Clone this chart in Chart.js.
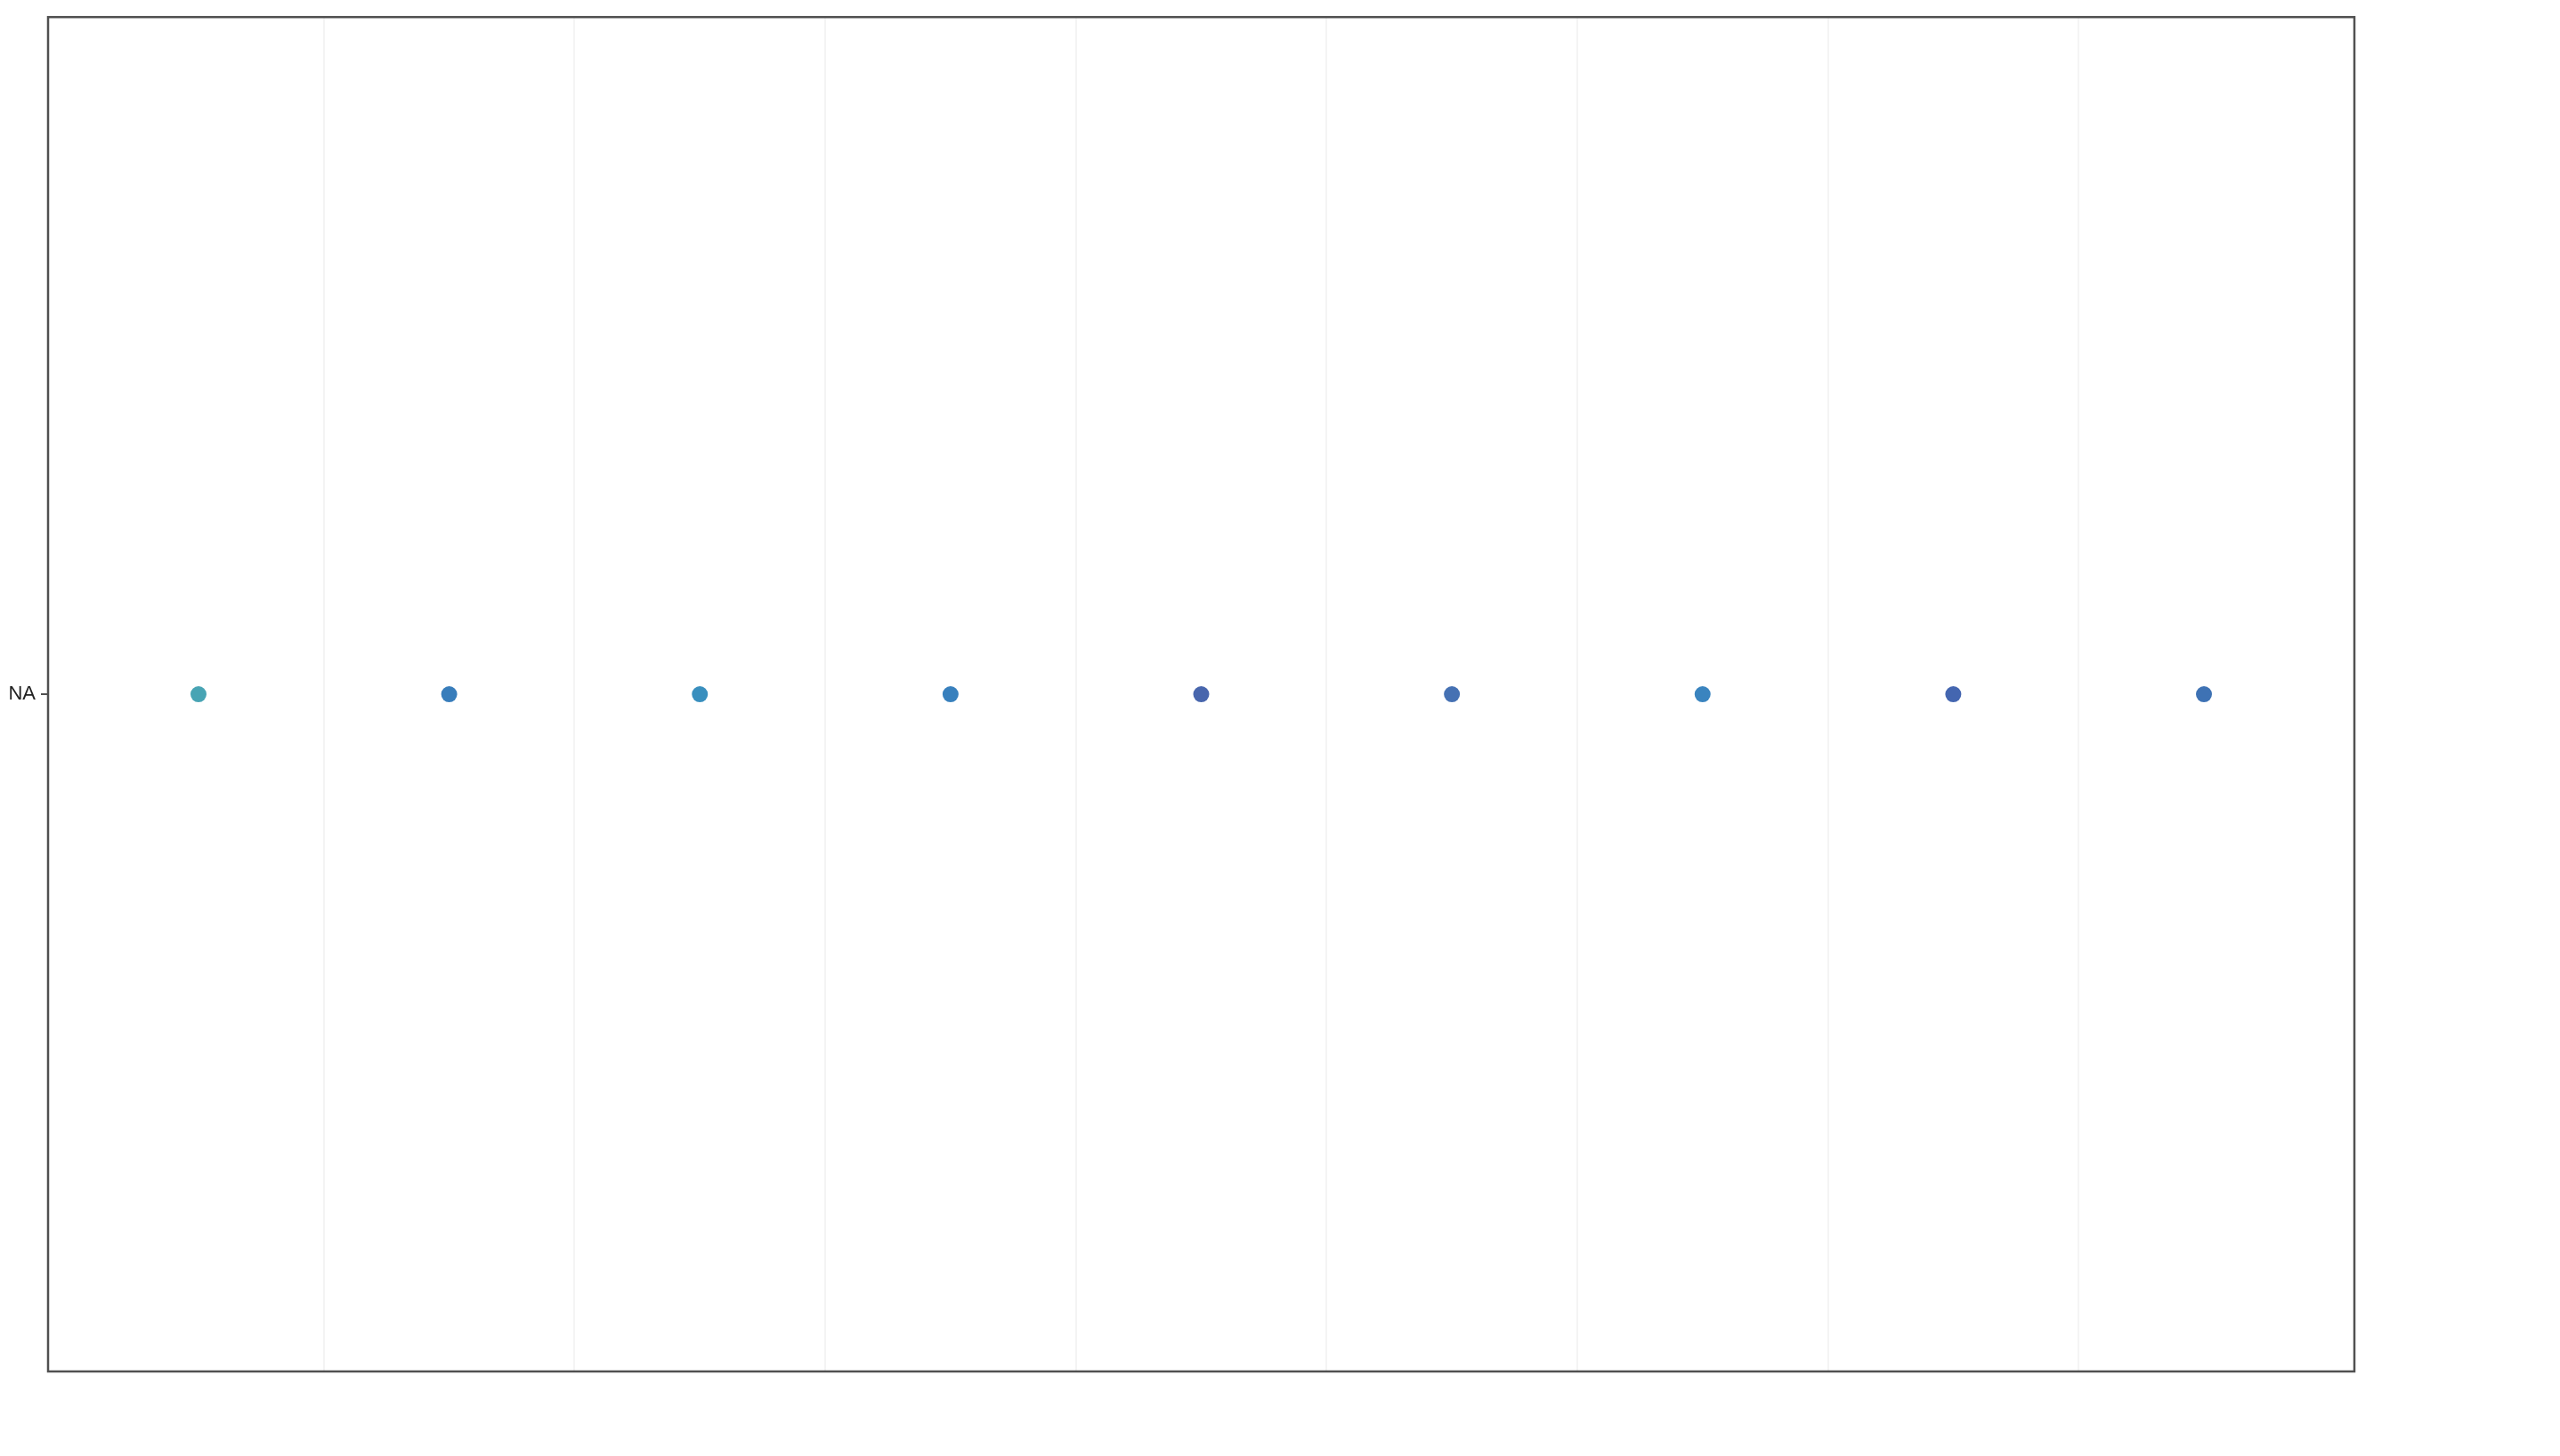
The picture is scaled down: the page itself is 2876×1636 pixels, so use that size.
<!DOCTYPE html>
<html>
<head>
<meta charset="utf-8">
<script src="https://cdn.jsdelivr.net/npm/chart.js@4"></script>
<style>
html,body{margin:0;padding:0;background:#fff;}
#wrap{width:2876px;height:1636px;}
</style>
</head>
<body>
<div id="wrap"><canvas id="c" width="2876" height="1636"></canvas></div>
<script>
// Data
const categories = ['1','2','3','4','5','6','7','8','9'];
const xPositions = [1,2,3,4,5,6,7,8,9];
const yLabels = ['NA'];
const yValues = ['NA','NA','NA','NA','NA','NA','NA','NA','NA'];
const pointColors = ['#48a4b4','#387dbb','#398fbe','#3880bd','#4866ad','#4571b3','#3a84bf','#4466b0','#3e72b4'];
const gridPositions = [1.5,2.5,3.5,4.5,5.5,6.5,7.5,8.5];

const bgPlugin = {
  id:'bg',
  beforeDraw(chart){
    const ctx=chart.ctx; ctx.save(); ctx.fillStyle='#fff';
    ctx.fillRect(0,0,chart.width,chart.height); ctx.restore();
  }
};
const borderPlugin = {
  id:'panelBorder',
  afterDatasetsDraw(chart){
    const a=chart.chartArea, ctx=chart.ctx;
    ctx.save(); ctx.strokeStyle='#505050'; ctx.lineWidth=2.5;
    ctx.strokeRect(a.left,a.top,a.right-a.left,a.bottom-a.top);
    ctx.restore();
  }
};

new Chart(document.getElementById('c'), {
  type:'scatter',
  data:{
    datasets:[{
      label: 'values',
      data: xPositions.map((x,i)=>({x:x,y:yValues[i]})),
      pointBackgroundColor: pointColors,
      pointBorderWidth:0,
      pointRadius:9,
      pointHoverRadius:9
    }]
  },
  options:{
    responsive:false,
    animation:false,
    devicePixelRatio:1,
    layout:{padding:{left:0,top:15,right:231,bottom:95}},
    plugins:{legend:{display:false},tooltip:{enabled:false}},
    scales:{
      x:{
        type:'linear',
        min:0.4, max:9.6,
        afterBuildTicks(s){ s.ticks = gridPositions.map(v=>({value:v})); },
        afterFit(s){ s.height = 0; },
        ticks:{display:false},
        border:{display:false},
        grid:{color:'#f4f4f4', lineWidth:2, drawTicks:false}
      },
      y:{
        type:'category',
        labels: yLabels,
        offset:true,
        afterFit(s){ s.width = 54; },
        ticks:{color:'#222', padding:6, font:{family:'"Liberation Sans", Arial, sans-serif', size:22}},
        border:{display:false},
        grid:{drawOnChartArea:false, drawTicks:true, tickLength:8, color:'#505050', lineWidth:2}
      }
    }
  },
  plugins:[bgPlugin,borderPlugin]
});
</script>
</body>
</html>
